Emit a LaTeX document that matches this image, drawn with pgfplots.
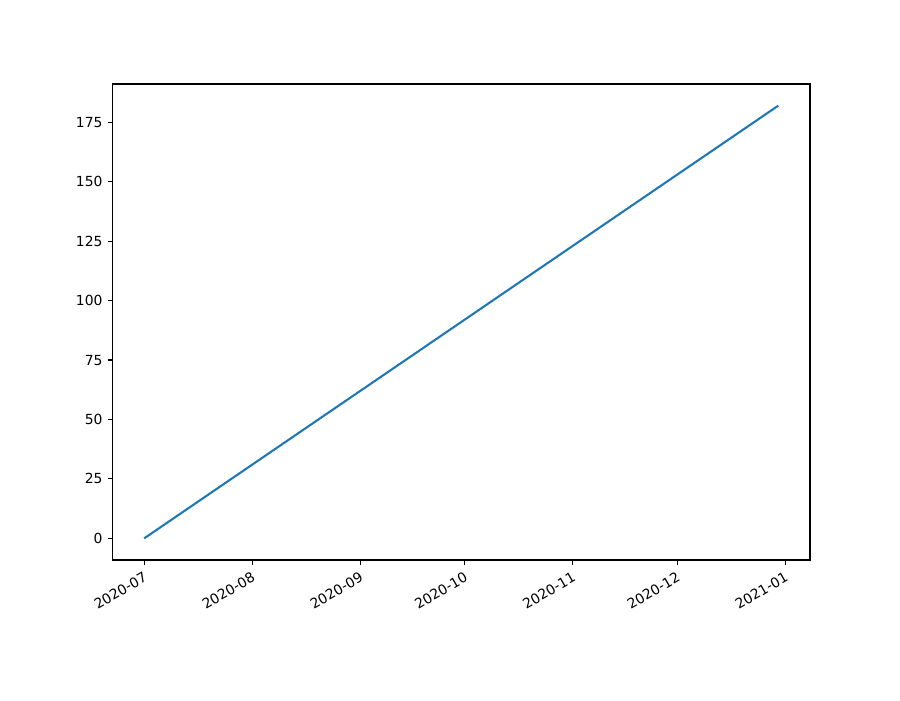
\documentclass[border=0pt]{standalone}
\usepackage{pgfplots}
\pgfplotsset{compat=1.18}
\usepackage{fontspec}
\setmainfont{DejaVu Sans}
\definecolor{mplblue}{HTML}{1F77B4}
\begin{document}
\begin{tikzpicture}
\useasboundingbox (0,0) rectangle (648pt,504pt);
\begin{axis}[
    at={(81pt,100.8pt)}, anchor=south west,
    scale only axis, width=502.2pt, height=342.72pt,
    xmin=-9.1, xmax=191.1, ymin=-9.1, ymax=191.1,
    axis line style={line width=0.8pt},
    tick style={line width=0.8pt, black},
    tick align=outside, major tick length=3.5pt,
    xtick pos=bottom, ytick pos=left,
    xtick={0,31,62,92,123,153,184},
    xticklabels={2020-07,2020-08,2020-09,2020-10,2020-11,2020-12,2021-01},
    ytick={0,25,50,75,100,125,150,175},
    xticklabel style={rotate=30, anchor=north east, inner sep=0pt, yshift=-3.5pt, xshift=-3pt},
    yticklabel style={inner sep=0pt, xshift=-3.5pt},
    /pgf/number format/assume math mode=true,
    tick label style={font=\fontsize{10pt}{12pt}\selectfont},
]
\addplot[mplblue, line width=1.5pt] coordinates {
(0,0) (30,30) (60,60) (90,90) (120,120) (150,150) (182,182)
};
\end{axis}
\end{tikzpicture}
\end{document}
